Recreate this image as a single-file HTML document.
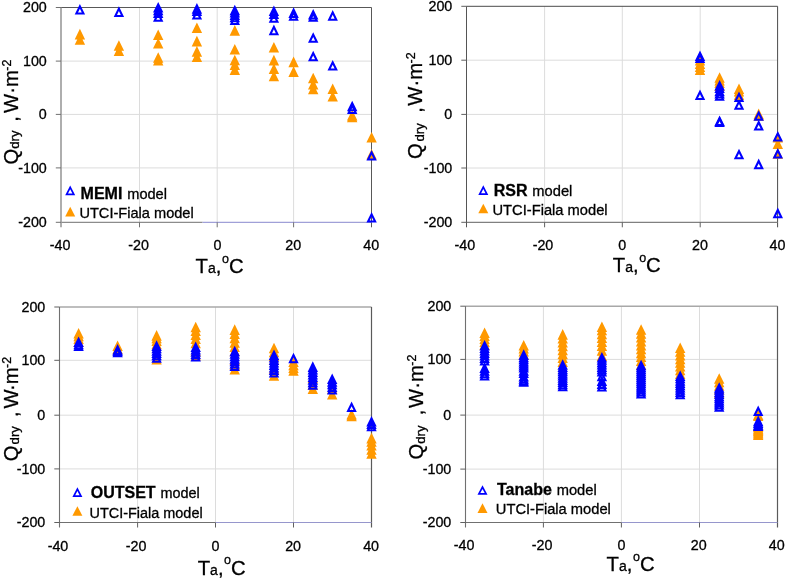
<!DOCTYPE html>
<html><head><meta charset="utf-8"><title>Qdry vs Ta</title>
<style>
html,body{margin:0;padding:0;background:#fff;}
svg{display:block;font-family:"Liberation Sans",Arial,sans-serif;fill:#000;}
text{stroke:#000;stroke-width:0.3px;}
.tk{font-size:14.3px;}
.lg{font-size:14.4px;}
.lg .b{font-size:16px;font-weight:bold;}
.tt{font-size:20.3px;}
.sm{font-size:13.2px;}
.sp{font-size:12.5px;}
.sa{font-size:14px;}
.or{fill:#ff9900;}
.bl{fill:#0000ff;fill-rule:evenodd;}
</style></head><body>
<svg width="785" height="578" viewBox="0 0 785 578">
<rect width="785" height="578" fill="#fff"/>

<g><!-- MEMI -->
<path d="M61 61.1H371.5M61 114.4H371.5M61 167.9H371.5M139.5 7.5V222.3M217.2 7.5V222.3M293.6 7.5V222.3" stroke="#dcdcdc" stroke-width="1" fill="none"/>
<path d="M61 7.5H371.5V227.3" stroke="#454545" stroke-width="0.9" fill="none"/>
<path d="M61 222.3H202.6" stroke="#8c8c8c" stroke-width="1.2" fill="none"/>
<path d="M202.6 222.3H371.5" stroke="#a0a0d8" stroke-width="1.2" fill="none"/>
<path d="M61 7.5V227.3" stroke="#9a9a9a" stroke-width="1.6" fill="none"/>
<path d="M55.8 7.5H61M55.8 61.1H61M55.8 114.4H61M55.8 167.9H61M55.8 222.3H61M139.5 222.3V227.3M217.2 222.3V227.3M293.6 222.3V227.3" stroke="#707070" stroke-width="1" fill="none"/>
<g class="tk">
<text x="46.8" y="12.4" text-anchor="end">200</text>
<text x="46.8" y="66" text-anchor="end">100</text>
<text x="46.8" y="119.3" text-anchor="end">0</text>
<text x="46.8" y="172.8" text-anchor="end">-100</text>
<text x="46.8" y="227.2" text-anchor="end">-200</text>
<text x="60.2" y="250.1" text-anchor="middle">-40</text>
<text x="138.7" y="250.1" text-anchor="middle">-20</text>
<text x="217.5" y="250.1" text-anchor="middle">0</text>
<text x="293.3" y="250.1" text-anchor="middle">20</text>
<text x="371.2" y="250.1" text-anchor="middle">40</text>
</g>
<path class="or" d="M74.7 39.45L85.1 39.45L79.9 28.85ZM74.7 44.82L85.1 44.82L79.9 34.22ZM113.7 50.73L124.1 50.73L118.9 40.13ZM113.7 56.1L124.1 56.1L118.9 45.5ZM153 39.99L163.4 39.99L158.2 29.39ZM153 48.58L163.4 48.58L158.2 37.98ZM153 62.81L163.4 62.81L158.2 52.21ZM153 65.49L163.4 65.49L158.2 54.89ZM191.7 33.01L202.1 33.01L196.9 22.41ZM191.7 46.43L202.1 46.43L196.9 35.83ZM191.7 56.63L202.1 56.63L196.9 46.03ZM191.7 62L202.1 62L196.9 51.4ZM229.6 35.69L240 35.69L234.8 25.09ZM229.6 54.49L240 54.49L234.8 43.89ZM229.6 65.23L240 65.23L234.8 54.63ZM229.6 70.06L240 70.06L234.8 59.46ZM229.6 74.89L240 74.89L234.8 64.29ZM268.7 52.61L279.1 52.61L273.9 42.01ZM268.7 65.39L279.1 65.39L273.9 54.79ZM268.7 74.09L279.1 74.09L273.9 63.49ZM268.7 81.34L279.1 81.34L273.9 70.74ZM288.4 67.21L298.8 67.21L293.6 56.61ZM288.4 76.88L298.8 76.88L293.6 66.28ZM308 83.32L318.4 83.32L313.2 72.72ZM308 89.61L318.4 89.61L313.2 79.01ZM308 94.28L318.4 94.28L313.2 83.68ZM327.5 94.12L337.9 94.12L332.7 83.52ZM327.5 101.53L337.9 101.53L332.7 90.93ZM347 120.54L357.4 120.54L352.2 109.94ZM347 122.15L357.4 122.15L352.2 111.55ZM366.4 142.55L376.8 142.55L371.6 131.95ZM366.4 159.58L376.8 159.58L371.6 148.98Z"/>
<path class="bl" d="M74.7 14.53L85.1 14.53L79.9 3.93ZM78 12.53L79.9 8.73L81.8 12.53Z"/>
<path class="bl" d="M113.7 16.9L124.1 16.9L118.9 6.3ZM117 14.9L118.9 11.1L120.8 14.9Z"/>
<path class="bl" d="M153 12.6L163.4 12.6L158.2 2ZM156.3 10.6L158.2 6.8L160.1 10.6Z"/>
<path class="bl" d="M153 15.29L163.4 15.29L158.2 4.69ZM156.3 13.29L158.2 9.49L160.1 13.29Z"/>
<path class="bl" d="M153 17.97L163.4 17.97L158.2 7.37ZM156.3 15.97L158.2 12.17L160.1 15.97Z"/>
<path class="bl" d="M153 21.73L163.4 21.73L158.2 11.13ZM156.3 19.73L158.2 15.93L160.1 19.73Z"/>
<path class="bl" d="M191.7 13.67L202.1 13.67L196.9 3.07ZM195 11.67L196.9 7.87L198.8 11.67Z"/>
<path class="bl" d="M191.7 16.09L202.1 16.09L196.9 5.49ZM195 14.09L196.9 10.29L198.8 14.09Z"/>
<path class="bl" d="M191.7 19.58L202.1 19.58L196.9 8.98ZM195 17.58L196.9 13.78L198.8 17.58Z"/>
<path class="bl" d="M229.6 15.29L240 15.29L234.8 4.69ZM232.9 13.29L234.8 9.49L236.7 13.29Z"/>
<path class="bl" d="M229.6 17.43L240 17.43L234.8 6.83ZM232.9 15.43L234.8 11.63L236.7 15.43Z"/>
<path class="bl" d="M229.6 20.12L240 20.12L234.8 9.52ZM232.9 18.12L234.8 14.32L236.7 18.12Z"/>
<path class="bl" d="M229.6 22.27L240 22.27L234.8 11.67ZM232.9 20.27L234.8 16.47L236.7 20.27Z"/>
<path class="bl" d="M229.6 25.11L240 25.11L234.8 14.51ZM232.9 23.11L234.8 19.31L236.7 23.11Z"/>
<path class="bl" d="M268.7 16.09L279.1 16.09L273.9 5.49ZM272 14.09L273.9 10.29L275.8 14.09Z"/>
<path class="bl" d="M268.7 19.04L279.1 19.04L273.9 8.44ZM272 17.04L273.9 13.24L275.8 17.04Z"/>
<path class="bl" d="M268.7 22.8L279.1 22.8L273.9 12.2ZM272 20.8L273.9 17L275.8 20.8Z"/>
<path class="bl" d="M268.7 35.15L279.1 35.15L273.9 24.55ZM272 33.15L273.9 29.35L275.8 33.15Z"/>
<path class="bl" d="M288.4 17.97L298.8 17.97L293.6 7.37ZM291.7 15.97L293.6 12.17L295.5 15.97Z"/>
<path class="bl" d="M288.4 20.66L298.8 20.66L293.6 10.05ZM291.7 18.66L293.6 14.86L295.5 18.66Z"/>
<path class="bl" d="M308 19.58L318.4 19.58L313.2 8.98ZM311.3 17.58L313.2 13.78L315.1 17.58Z"/>
<path class="bl" d="M308 21.73L318.4 21.73L313.2 11.13ZM311.3 19.73L313.2 15.93L315.1 19.73Z"/>
<path class="bl" d="M308 42.78L318.4 42.78L313.2 32.18ZM311.3 40.78L313.2 36.98L315.1 40.78Z"/>
<path class="bl" d="M308 61.31L318.4 61.31L313.2 50.71ZM311.3 59.31L313.2 55.51L315.1 59.31Z"/>
<path class="bl" d="M327.5 20.66L337.9 20.66L332.7 10.05ZM330.8 18.66L332.7 14.86L334.6 18.66Z"/>
<path class="bl" d="M327.5 70.6L337.9 70.6L332.7 60ZM330.8 68.6L332.7 64.8L334.6 68.6Z"/>
<path class="bl" d="M347 111.3L357.4 111.3L352.2 100.7ZM350.3 109.3L352.2 105.5L354.1 109.3Z"/>
<path class="bl" d="M347 113.88L357.4 113.88L352.2 103.28ZM350.3 111.88L352.2 108.08L354.1 111.88Z"/>
<path class="bl" d="M366.4 160.6L376.8 160.6L371.6 150ZM369.7 158.6L371.6 154.8L373.5 158.6Z"/>
<path class="bl" d="M366.4 222.57L376.8 222.57L371.6 211.97ZM369.7 220.57L371.6 216.77L373.5 220.57Z"/>
<path class="bl" d="M65.2 195.15L75.2 195.15L70.2 185.55ZM68 193.4L70.2 189.3L72.4 193.4Z"/>
<path class="or" d="M65.2 216.45L75.2 216.45L70.2 206.85Z"/>
<text class="lg" style="font-size:14.6px" x="80.6" y="198.7"><tspan class="b">MEMI</tspan><tspan dx="0.8"> model</tspan></text>
<text class="lg" style="font-size:14.6px" x="79.4" y="218">UTCI-Fiala model</text>
<text class="tt" x="195.6" y="273.2">T<tspan class="sa">a</tspan>,<tspan class="sp" dy="-10.3" dx="0.5">o</tspan><tspan dy="10.3">C</tspan></text>
<text class="tt" transform="translate(17.7 164.5) rotate(-90)" x="0" y="0">Q<tspan class="sm" dy="1.5" dx="0">dry</tspan><tspan dy="-1.5" dx="3"> ,</tspan><tspan dx="-2.4"> W</tspan><tspan dx="0">·m</tspan><tspan class="sp" dy="-7" dx="-0.6">-2</tspan></text>
</g>
<g><!-- RSR -->
<path d="M466.5 60.2H777.6M466.5 114.4H777.6M466.5 168H777.6M544.6 6.3V222.3M622.3 6.3V222.3M700.2 6.3V222.3" stroke="#dcdcdc" stroke-width="1" fill="none"/>
<path d="M466.5 6.3H777.6V227.3" stroke="#4a4a4a" stroke-width="1" fill="none"/>
<path d="M466.5 222.3H777.6" stroke="#808080" stroke-width="1.2" fill="none"/>
<path d="M466.5 6.3V227.3" stroke="#555" stroke-width="1" fill="none"/>
<path d="M461.3 6.3H466.5M461.3 60.2H466.5M461.3 114.4H466.5M461.3 168H466.5M461.3 222.3H466.5M544.6 222.3V227.3M622.3 222.3V227.3M700.2 222.3V227.3" stroke="#606060" stroke-width="1" fill="none"/>
<g class="tk">
<text x="452.3" y="11.2" text-anchor="end">200</text>
<text x="452.3" y="65.1" text-anchor="end">100</text>
<text x="452.3" y="119.3" text-anchor="end">0</text>
<text x="452.3" y="172.9" text-anchor="end">-100</text>
<text x="452.3" y="227.2" text-anchor="end">-200</text>
<text x="464.9" y="250.1" text-anchor="middle">-40</text>
<text x="543" y="250.1" text-anchor="middle">-20</text>
<text x="622.2" y="250.1" text-anchor="middle">0</text>
<text x="700" y="250.1" text-anchor="middle">20</text>
<text x="777.4" y="250.1" text-anchor="middle">40</text>
</g>
<path class="or" d="M694.8 65.4L705.2 65.4L700 54.8ZM694.8 68.91L705.2 68.91L700 58.31ZM694.8 71.88L705.2 71.88L700 61.28ZM694.8 74.9L705.2 74.9L700 64.3ZM714.4 82.79L724.8 82.79L719.6 72.19ZM714.4 85.6L724.8 85.6L719.6 75ZM714.4 88.08L724.8 88.08L719.6 77.48ZM714.4 91.1L724.8 91.1L719.6 80.5ZM733.8 94.07L744.2 94.07L739 83.47ZM733.8 96.61L744.2 96.61L739 86.01ZM733.8 99.91L744.2 99.91L739 89.31ZM753.5 119.18L763.9 119.18L758.7 108.58ZM753.5 120.7L763.9 120.7L758.7 110.1ZM772.6 142.62L783 142.62L777.8 132.02ZM772.6 149.1L783 149.1L777.8 138.5ZM772.6 158.82L783 158.82L777.8 148.22Z"/>
<path class="bl" d="M694.8 61.08L705.2 61.08L700 50.48ZM698.1 59.08L700 55.28L701.9 59.08Z"/>
<path class="bl" d="M694.8 62.92L705.2 62.92L700 52.32ZM698.1 60.92L700 57.12L701.9 60.92Z"/>
<path class="bl" d="M694.8 100.12L705.2 100.12L700 89.52ZM698.1 98.12L700 94.32L701.9 98.12Z"/>
<path class="bl" d="M714.4 90.62L724.8 90.62L719.6 80.02ZM717.7 88.62L719.6 84.82L721.5 88.62Z"/>
<path class="bl" d="M714.4 93.1L724.8 93.1L719.6 82.5ZM717.7 91.1L719.6 87.3L721.5 91.1Z"/>
<path class="bl" d="M714.4 96.13L724.8 96.13L719.6 85.53ZM717.7 94.13L719.6 90.33L721.5 94.13Z"/>
<path class="bl" d="M714.4 98.61L724.8 98.61L719.6 88.01ZM717.7 96.61L719.6 92.81L721.5 96.61Z"/>
<path class="bl" d="M714.4 100.82L724.8 100.82L719.6 90.22ZM717.7 98.82L719.6 95.02L721.5 98.82Z"/>
<path class="bl" d="M714.4 126.1L724.8 126.1L719.6 115.5ZM717.7 124.1L719.6 120.3L721.5 124.1Z"/>
<path class="bl" d="M714.4 126.96L724.8 126.96L719.6 116.36ZM717.7 124.96L719.6 121.16L721.5 124.96Z"/>
<path class="bl" d="M733.8 102.12L744.2 102.12L739 91.52ZM737.1 100.12L739 96.32L740.9 100.12Z"/>
<path class="bl" d="M733.8 109.84L744.2 109.84L739 99.24ZM737.1 107.84L739 104.04L740.9 107.84Z"/>
<path class="bl" d="M733.8 159.31L744.2 159.31L739 148.71ZM737.1 157.31L739 153.51L740.9 157.31Z"/>
<path class="bl" d="M753.5 120.8L763.9 120.8L758.7 110.2ZM756.8 118.8L758.7 115L760.6 118.8Z"/>
<path class="bl" d="M753.5 130.47L763.9 130.47L758.7 119.87ZM756.8 128.47L758.7 124.67L760.6 128.47Z"/>
<path class="bl" d="M753.5 169.19L763.9 169.19L758.7 158.59ZM756.8 167.19L758.7 163.39L760.6 167.19Z"/>
<path class="bl" d="M772.6 141.54L783 141.54L777.8 130.94ZM775.9 139.54L777.8 135.74L779.7 139.54Z"/>
<path class="bl" d="M772.6 158.5L783 158.5L777.8 147.9ZM775.9 156.5L777.8 152.7L779.7 156.5Z"/>
<path class="bl" d="M772.6 218.22L783 218.22L777.8 207.62ZM775.9 216.22L777.8 212.42L779.7 216.22Z"/>
<path class="bl" d="M478.3 194.95L488.3 194.95L483.3 185.35ZM481.1 193.2L483.3 189.1L485.5 193.2Z"/>
<path class="or" d="M478.3 213.35L488.3 213.35L483.3 203.75Z"/>
<text class="lg" style="font-size:14.7px" x="493.7" y="195.9"><tspan class="b">RSR</tspan><tspan dx="0.8"> model</tspan></text>
<text class="lg" style="font-size:14.7px" x="492.5" y="215.2">UTCI-Fiala model</text>
<text class="tt" x="612.8" y="272.4">T<tspan class="sa">a</tspan>,<tspan class="sp" dy="-10.3" dx="0.5">o</tspan><tspan dy="10.3">C</tspan></text>
<text class="tt" transform="translate(422.3 158.9) rotate(-90)" x="0" y="0">Q<tspan class="sm" dy="1.5" dx="1.6">dry</tspan><tspan dy="-1.5" dx="4.8"> ,</tspan><tspan dx="-4.2"> W</tspan><tspan dx="0">·m</tspan><tspan class="sp" dy="-7" dx="-0.6">-2</tspan></text>
</g>
<g><!-- OUTSET -->
<path d="M59.5 360.3H371.5M59.5 415.2H371.5M59.5 468.9H371.5M137.6 307V522.5M215.5 307V522.5M293.5 307V522.5" stroke="#dcdcdc" stroke-width="1" fill="none"/>
<path d="M59.5 307H371.5" stroke="#a8a8a8" stroke-width="1.6" fill="none"/>
<path d="M371.5 307V527.5" stroke="#5a5a5a" stroke-width="1.2" fill="none"/>
<path d="M59.5 522.5H215.5" stroke="#707070" stroke-width="1.1" fill="none"/>
<path d="M215.5 522.5H371.5" stroke="#9696cc" stroke-width="1.1" fill="none"/>
<path d="M59.5 307V527.5" stroke="#707070" stroke-width="1.1" fill="none"/>
<path d="M54.3 307H59.5M54.3 360.3H59.5M54.3 415.2H59.5M54.3 468.9H59.5M54.3 522.5H59.5M137.6 522.5V527.5M215.5 522.5V527.5M293.5 522.5V527.5" stroke="#606060" stroke-width="1" fill="none"/>
<g class="tk">
<text x="45.3" y="311.9" text-anchor="end">200</text>
<text x="45.3" y="365.2" text-anchor="end">100</text>
<text x="45.3" y="420.1" text-anchor="end">0</text>
<text x="45.3" y="473.8" text-anchor="end">-100</text>
<text x="45.3" y="527.4" text-anchor="end">-200</text>
<text x="58" y="551.2" text-anchor="middle">-40</text>
<text x="136.1" y="551.2" text-anchor="middle">-20</text>
<text x="215.4" y="551.2" text-anchor="middle">0</text>
<text x="293.1" y="551.2" text-anchor="middle">20</text>
<text x="371.1" y="551.2" text-anchor="middle">40</text>
</g>
<path class="or" d="M73.4 338.5L83.8 338.5L78.6 327.9ZM73.4 341.19L83.8 341.19L78.6 330.59ZM73.4 344.1L83.8 344.1L78.6 333.5ZM73.4 347.12L83.8 347.12L78.6 336.52ZM112.4 351.11L122.8 351.11L117.6 340.51ZM112.4 354.12L122.8 354.12L117.6 343.52ZM151.4 340.65L161.8 340.65L156.6 330.05ZM151.4 343.35L161.8 343.35L156.6 332.75ZM151.4 346.04L161.8 346.04L156.6 335.44ZM151.4 349.27L161.8 349.27L156.6 338.67ZM151.4 364.57L161.8 364.57L156.6 353.97ZM190.5 332.3L200.9 332.3L195.7 321.7ZM190.5 336.07L200.9 336.07L195.7 325.47ZM190.5 340.12L200.9 340.12L195.7 329.51ZM190.5 344.1L200.9 344.1L195.7 333.5ZM190.5 348.2L200.9 348.2L195.7 337.6ZM190.5 356.28L200.9 356.28L195.7 345.68ZM190.5 360.59L200.9 360.59L195.7 349.99ZM229.5 334.89L239.9 334.89L234.7 324.29ZM229.5 339.04L239.9 339.04L234.7 328.44ZM229.5 343.35L239.9 343.35L234.7 332.75ZM229.5 347.66L239.9 347.66L234.7 337.06ZM229.5 351.97L239.9 351.97L234.7 341.37ZM229.5 356.28L239.9 356.28L234.7 345.68ZM229.5 364.9L239.9 364.9L234.7 354.3ZM229.5 369.75L239.9 369.75L234.7 359.15ZM229.5 374.6L239.9 374.6L234.7 364ZM268.8 353.37L279.2 353.37L274 342.77ZM268.8 357.36L279.2 357.36L274 346.75ZM268.8 361.13L279.2 361.13L274 350.53ZM268.8 365.06L279.2 365.06L274 354.46ZM268.8 373.79L279.2 373.79L274 363.19ZM268.8 380.68L279.2 380.68L274 370.08ZM288.3 367.05L298.7 367.05L293.5 356.45ZM288.3 370.29L298.7 370.29L293.5 359.69ZM288.3 372.98L298.7 372.98L293.5 362.38ZM288.3 375.67L298.7 375.67L293.5 365.07ZM307.6 383.22L318 383.22L312.8 372.62ZM307.6 389.68L318 389.68L312.8 379.08ZM307.6 393.99L318 393.99L312.8 383.39ZM327 393.99L337.4 393.99L332.2 383.39ZM327 399.49L337.4 399.49L332.2 388.89ZM346.4 419.58L356.8 419.58L351.6 408.98ZM346.4 421.3L356.8 421.3L351.6 410.7ZM366.3 443.39L376.7 443.39L371.5 432.79ZM366.3 446.79L376.7 446.79L371.5 436.19ZM366.3 450.56L376.7 450.56L371.5 439.96ZM366.3 454.87L376.7 454.87L371.5 444.27ZM366.3 458.86L376.7 458.86L371.5 448.26Z"/>
<path class="bl" d="M73.4 347.12L83.8 347.12L78.6 336.52ZM76.7 345.12L78.6 341.32L80.5 345.12Z"/>
<path class="bl" d="M73.4 349.27L83.8 349.27L78.6 338.67ZM76.7 347.27L78.6 343.47L80.5 347.27Z"/>
<path class="bl" d="M73.4 351.11L83.8 351.11L78.6 340.51ZM76.7 349.11L78.6 345.31L80.5 349.11Z"/>
<path class="bl" d="M112.4 354.66L122.8 354.66L117.6 344.06ZM115.7 352.66L117.6 348.86L119.5 352.66Z"/>
<path class="bl" d="M112.4 356.01L122.8 356.01L117.6 345.41ZM115.7 354.01L117.6 350.21L119.5 354.01Z"/>
<path class="bl" d="M112.4 357.36L122.8 357.36L117.6 346.75ZM115.7 355.36L117.6 351.56L119.5 355.36Z"/>
<path class="bl" d="M151.4 350.89L161.8 350.89L156.6 340.29ZM154.7 348.89L156.6 345.09L158.5 348.89Z"/>
<path class="bl" d="M151.4 353.26L161.8 353.26L156.6 342.66ZM154.7 351.26L156.6 347.46L158.5 351.26Z"/>
<path class="bl" d="M151.4 355.63L161.8 355.63L156.6 345.03ZM154.7 353.63L156.6 349.83L158.5 353.63Z"/>
<path class="bl" d="M151.4 358L161.8 358L156.6 347.4ZM154.7 356L156.6 352.2L158.5 356Z"/>
<path class="bl" d="M151.4 360.37L161.8 360.37L156.6 349.77ZM154.7 358.37L156.6 354.57L158.5 358.37Z"/>
<path class="bl" d="M151.4 362.74L161.8 362.74L156.6 352.14ZM154.7 360.74L156.6 356.94L158.5 360.74Z"/>
<path class="bl" d="M190.5 352.08L200.9 352.08L195.7 341.48ZM193.8 350.08L195.7 346.28L197.6 350.08Z"/>
<path class="bl" d="M190.5 354.41L200.9 354.41L195.7 343.81ZM193.8 352.41L195.7 348.61L197.6 352.41Z"/>
<path class="bl" d="M190.5 356.74L200.9 356.74L195.7 346.14ZM193.8 354.74L195.7 350.94L197.6 354.74Z"/>
<path class="bl" d="M190.5 359.07L200.9 359.07L195.7 348.47ZM193.8 357.07L195.7 353.27L197.6 357.07Z"/>
<path class="bl" d="M190.5 361.4L200.9 361.4L195.7 350.8ZM193.8 359.4L195.7 355.6L197.6 359.4Z"/>
<path class="bl" d="M229.5 356.28L239.9 356.28L234.7 345.68ZM232.8 354.28L234.7 350.48L236.6 354.28Z"/>
<path class="bl" d="M229.5 358.75L239.9 358.75L234.7 348.15ZM232.8 356.75L234.7 352.95L236.6 356.75Z"/>
<path class="bl" d="M229.5 361.22L239.9 361.22L234.7 350.62ZM232.8 359.22L234.7 355.42L236.6 359.22Z"/>
<path class="bl" d="M229.5 363.69L239.9 363.69L234.7 353.09ZM232.8 361.69L234.7 357.89L236.6 361.69Z"/>
<path class="bl" d="M229.5 366.15L239.9 366.15L234.7 355.55ZM232.8 364.15L234.7 360.35L236.6 364.15Z"/>
<path class="bl" d="M229.5 368.62L239.9 368.62L234.7 358.02ZM232.8 366.62L234.7 362.82L236.6 366.62Z"/>
<path class="bl" d="M229.5 371.09L239.9 371.09L234.7 360.49ZM232.8 369.09L234.7 365.29L236.6 369.09Z"/>
<path class="bl" d="M268.8 360.05L279.2 360.05L274 349.45ZM272.1 358.05L274 354.25L275.9 358.05Z"/>
<path class="bl" d="M268.8 362.53L279.2 362.53L274 351.93ZM272.1 360.53L274 356.73L275.9 360.53Z"/>
<path class="bl" d="M268.8 365.01L279.2 365.01L274 354.41ZM272.1 363.01L274 359.21L275.9 363.01Z"/>
<path class="bl" d="M268.8 367.48L279.2 367.48L274 356.88ZM272.1 365.48L274 361.68L275.9 365.48Z"/>
<path class="bl" d="M268.8 369.96L279.2 369.96L274 359.36ZM272.1 367.96L274 364.16L275.9 367.96Z"/>
<path class="bl" d="M268.8 372.44L279.2 372.44L274 361.84ZM272.1 370.44L274 366.64L275.9 370.44Z"/>
<path class="bl" d="M268.8 374.92L279.2 374.92L274 364.32ZM272.1 372.92L274 369.12L275.9 372.92Z"/>
<path class="bl" d="M268.8 377.4L279.2 377.4L274 366.8ZM272.1 375.4L274 371.6L275.9 375.4Z"/>
<path class="bl" d="M288.3 363.28L298.7 363.28L293.5 352.68ZM291.6 361.28L293.5 357.48L295.4 361.28Z"/>
<path class="bl" d="M307.6 371.9L318 371.9L312.8 361.3ZM310.9 369.9L312.8 366.1L314.7 369.9Z"/>
<path class="bl" d="M307.6 374.46L318 374.46L312.8 363.86ZM310.9 372.46L312.8 368.66L314.7 372.46Z"/>
<path class="bl" d="M307.6 377.01L318 377.01L312.8 366.41ZM310.9 375.01L312.8 371.21L314.7 375.01Z"/>
<path class="bl" d="M307.6 379.57L318 379.57L312.8 368.97ZM310.9 377.57L312.8 373.77L314.7 377.57Z"/>
<path class="bl" d="M307.6 382.12L318 382.12L312.8 371.52ZM310.9 380.12L312.8 376.32L314.7 380.12Z"/>
<path class="bl" d="M307.6 384.68L318 384.68L312.8 374.08ZM310.9 382.68L312.8 378.88L314.7 382.68Z"/>
<path class="bl" d="M307.6 387.23L318 387.23L312.8 376.63ZM310.9 385.23L312.8 381.43L314.7 385.23Z"/>
<path class="bl" d="M307.6 389.79L318 389.79L312.8 379.19ZM310.9 387.79L312.8 383.99L314.7 387.79Z"/>
<path class="bl" d="M327 384.08L337.4 384.08L332.2 373.48ZM330.3 382.08L332.2 378.28L334.1 382.08Z"/>
<path class="bl" d="M327 386.7L337.4 386.7L332.2 376.1ZM330.3 384.7L332.2 380.9L334.1 384.7Z"/>
<path class="bl" d="M327 389.33L337.4 389.33L332.2 378.73ZM330.3 387.33L332.2 383.53L334.1 387.33Z"/>
<path class="bl" d="M327 391.96L337.4 391.96L332.2 381.36ZM330.3 389.96L332.2 386.16L334.1 389.96Z"/>
<path class="bl" d="M327 394.58L337.4 394.58L332.2 383.98ZM330.3 392.58L332.2 388.78L334.1 392.58Z"/>
<path class="bl" d="M346.4 412.09L356.8 412.09L351.6 401.49ZM349.7 410.09L351.6 406.29L353.5 410.09Z"/>
<path class="bl" d="M366.3 426.48L376.7 426.48L371.5 415.88ZM369.6 424.48L371.5 420.68L373.4 424.48Z"/>
<path class="bl" d="M366.3 429.01L376.7 429.01L371.5 418.41ZM369.6 427.01L371.5 423.21L373.4 427.01Z"/>
<path class="bl" d="M366.3 431.16L376.7 431.16L371.5 420.56ZM369.6 429.16L371.5 425.36L373.4 429.16Z"/>
<path class="bl" d="M72.4 496.95L82.4 496.95L77.4 487.35ZM75.2 495.2L77.4 491.1L79.6 495.2Z"/>
<path class="or" d="M72.4 515.85L82.4 515.85L77.4 506.25Z"/>
<text class="lg" style="font-size:14.45px" x="90.7" y="497.8"><tspan class="b">OUTSET</tspan><tspan dx="0.8"> model</tspan></text>
<text class="lg" style="font-size:14.45px" x="89.5" y="518.2">UTCI-Fiala model</text>
<text class="tt" x="197.7" y="574.7">T<tspan class="sa">a</tspan>,<tspan class="sp" dy="-10.3" dx="0.5">o</tspan><tspan dy="10.3">C</tspan></text>
<text class="tt" transform="translate(17.5 461.3) rotate(-90)" x="0" y="0">Q<tspan class="sm" dy="1.5" dx="1.1">dry</tspan><tspan dy="-1.5" dx="3.5"> ,</tspan><tspan dx="-2.9"> W</tspan><tspan dx="-1.5">·m</tspan><tspan class="sp" dy="-7" dx="-0.6">-2</tspan></text>
</g>
<g><!-- Tanabe -->
<path d="M465.5 359.4H777.5M465.5 415.1H777.5M465.5 469.1H777.5M543.4 306.2V522.5M621.4 306.2V522.5M699.5 306.2V522.5" stroke="#dcdcdc" stroke-width="1" fill="none"/>
<path d="M465.5 306.2H777.5" stroke="#a8a8a8" stroke-width="1.6" fill="none"/>
<path d="M777.5 306.2V527.5" stroke="#5a5a5a" stroke-width="1.2" fill="none"/>
<path d="M465.5 522.5H621.4" stroke="#707070" stroke-width="1.1" fill="none"/>
<path d="M621.4 522.5H777.5" stroke="#9696cc" stroke-width="1.1" fill="none"/>
<path d="M465.5 306.2V527.5" stroke="#707070" stroke-width="1.1" fill="none"/>
<path d="M460.3 306.2H465.5M460.3 359.4H465.5M460.3 415.1H465.5M460.3 469.1H465.5M460.3 522.5H465.5M543.4 522.5V527.5M621.4 522.5V527.5M699.5 522.5V527.5" stroke="#606060" stroke-width="1" fill="none"/>
<g class="tk">
<text x="451.3" y="311.1" text-anchor="end">200</text>
<text x="451.3" y="364.3" text-anchor="end">100</text>
<text x="451.3" y="420" text-anchor="end">0</text>
<text x="451.3" y="474" text-anchor="end">-100</text>
<text x="451.3" y="527.4" text-anchor="end">-200</text>
<text x="464.2" y="550.3" text-anchor="middle">-40</text>
<text x="542.1" y="550.3" text-anchor="middle">-20</text>
<text x="621.6" y="550.3" text-anchor="middle">0</text>
<text x="698.8" y="550.3" text-anchor="middle">20</text>
<text x="776.8" y="550.3" text-anchor="middle">40</text>
</g>
<path class="or" d="M479.4 338.01L489.8 338.01L484.6 327.41ZM479.4 341.04L489.8 341.04L484.6 330.44ZM479.4 344.02L489.8 344.02L484.6 333.42ZM479.4 346.99L489.8 346.99L484.6 336.39ZM479.4 349.96L489.8 349.96L484.6 339.36ZM518.5 350.5L528.9 350.5L523.7 339.9ZM518.5 353.48L528.9 353.48L523.7 342.88ZM518.5 356.45L528.9 356.45L523.7 345.85ZM518.5 359.43L528.9 359.43L523.7 348.83ZM557.5 339.64L567.9 339.64L562.7 329.04ZM557.5 343.54L567.9 343.54L562.7 332.94ZM557.5 347.45L567.9 347.45L562.7 336.85ZM557.5 351.36L567.9 351.36L562.7 340.76ZM557.5 355.27L567.9 355.27L562.7 344.67ZM557.5 359.18L567.9 359.18L562.7 348.58ZM557.5 363.09L567.9 363.09L562.7 352.49ZM557.5 367L567.9 367L562.7 356.4ZM596.7 332.12L607.1 332.12L601.9 321.52ZM596.7 335.31L607.1 335.31L601.9 324.71ZM596.7 339.2L607.1 339.2L601.9 328.6ZM596.7 343.1L607.1 343.1L601.9 332.5ZM596.7 346.99L607.1 346.99L601.9 336.39ZM596.7 350.99L607.1 350.99L601.9 340.39ZM596.7 355.64L607.1 355.64L601.9 345.04ZM596.7 361.05L607.1 361.05L601.9 350.45ZM635.9 334.82L646.3 334.82L641.1 324.22ZM635.9 338.72L646.3 338.72L641.1 328.12ZM635.9 342.61L646.3 342.61L641.1 332.01ZM635.9 346.5L646.3 346.5L641.1 335.9ZM635.9 350.4L646.3 350.4L641.1 339.8ZM635.9 354.29L646.3 354.29L641.1 343.69ZM635.9 358.18L646.3 358.18L641.1 347.58ZM635.9 362.08L646.3 362.08L641.1 351.48ZM635.9 365.97L646.3 365.97L641.1 355.37ZM635.9 369.7L646.3 369.7L641.1 359.1ZM675 353.1L685.4 353.1L680.2 342.5ZM675 356.78L685.4 356.78L680.2 346.18ZM675 360.47L685.4 360.47L680.2 349.87ZM675 364.15L685.4 364.15L680.2 353.55ZM675 367.84L685.4 367.84L680.2 357.24ZM675 371.52L685.4 371.52L680.2 360.92ZM675 375.21L685.4 375.21L680.2 364.61ZM675 378.89L685.4 378.89L680.2 368.29ZM714 383.76L724.4 383.76L719.2 373.16ZM714 387.28L724.4 387.28L719.2 376.68ZM714 390.79L724.4 390.79L719.2 380.19ZM714 394.31L724.4 394.31L719.2 383.71ZM714 397.82L724.4 397.82L719.2 387.22ZM753 419.99L763.4 419.99L758.2 409.39ZM753 421.07L763.4 421.07L758.2 410.47ZM753 430.81L763.4 430.81L758.2 420.21ZM753 432.1L763.4 432.1L758.2 421.5ZM753 433.4L763.4 433.4L758.2 422.8ZM753 434.7L763.4 434.7L758.2 424.1ZM753 436L763.4 436L758.2 425.4ZM753 437.29L763.4 437.29L758.2 426.69ZM753 438.59L763.4 438.59L758.2 427.99ZM753 439.89L763.4 439.89L758.2 429.29Z"/>
<path class="bl" d="M479.4 350.5L489.8 350.5L484.6 339.9ZM482.7 348.5L484.6 344.7L486.5 348.5Z"/>
<path class="bl" d="M479.4 352.98L489.8 352.98L484.6 342.38ZM482.7 350.98L484.6 347.18L486.5 350.98Z"/>
<path class="bl" d="M479.4 355.46L489.8 355.46L484.6 344.86ZM482.7 353.46L484.6 349.66L486.5 353.46Z"/>
<path class="bl" d="M479.4 357.94L489.8 357.94L484.6 347.34ZM482.7 355.94L484.6 352.14L486.5 355.94Z"/>
<path class="bl" d="M479.4 360.42L489.8 360.42L484.6 349.82ZM482.7 358.42L484.6 354.62L486.5 358.42Z"/>
<path class="bl" d="M479.4 362.9L489.8 362.9L484.6 352.3ZM482.7 360.9L484.6 357.1L486.5 360.9Z"/>
<path class="bl" d="M479.4 365.38L489.8 365.38L484.6 354.77ZM482.7 363.38L484.6 359.57L486.5 363.38Z"/>
<path class="bl" d="M479.4 372.95L489.8 372.95L484.6 362.35ZM482.7 370.95L484.6 367.15L486.5 370.95Z"/>
<path class="bl" d="M479.4 375.65L489.8 375.65L484.6 365.05ZM482.7 373.65L484.6 369.85L486.5 373.65Z"/>
<path class="bl" d="M479.4 378.35L489.8 378.35L484.6 367.75ZM482.7 376.35L484.6 372.55L486.5 376.35Z"/>
<path class="bl" d="M479.4 380.52L489.8 380.52L484.6 369.92ZM482.7 378.52L484.6 374.72L486.5 378.52Z"/>
<path class="bl" d="M518.5 359.97L528.9 359.97L523.7 349.37ZM521.8 357.97L523.7 354.17L525.6 357.97Z"/>
<path class="bl" d="M518.5 362.13L528.9 362.13L523.7 351.53ZM521.8 360.13L523.7 356.33L525.6 360.13Z"/>
<path class="bl" d="M518.5 364.29L528.9 364.29L523.7 353.69ZM521.8 362.29L523.7 358.49L525.6 362.29Z"/>
<path class="bl" d="M518.5 366.46L528.9 366.46L523.7 355.86ZM521.8 364.46L523.7 360.66L525.6 364.46Z"/>
<path class="bl" d="M518.5 368.62L528.9 368.62L523.7 358.02ZM521.8 366.62L523.7 362.82L525.6 366.62Z"/>
<path class="bl" d="M518.5 370.51L528.9 370.51L523.7 359.91ZM521.8 368.51L523.7 364.71L525.6 368.51Z"/>
<path class="bl" d="M518.5 372.4L528.9 372.4L523.7 361.8ZM521.8 370.4L523.7 366.6L525.6 370.4Z"/>
<path class="bl" d="M518.5 375.65L528.9 375.65L523.7 365.05ZM521.8 373.65L523.7 369.85L525.6 373.65Z"/>
<path class="bl" d="M518.5 378.08L528.9 378.08L523.7 367.48ZM521.8 376.08L523.7 372.28L525.6 376.08Z"/>
<path class="bl" d="M518.5 381.6L528.9 381.6L523.7 371ZM521.8 379.6L523.7 375.8L525.6 379.6Z"/>
<path class="bl" d="M518.5 383.76L528.9 383.76L523.7 373.16ZM521.8 381.76L523.7 377.96L525.6 381.76Z"/>
<path class="bl" d="M518.5 385.38L528.9 385.38L523.7 374.78ZM521.8 383.38L523.7 379.58L525.6 383.38Z"/>
<path class="bl" d="M518.5 386.73L528.9 386.73L523.7 376.13ZM521.8 384.73L523.7 380.93L525.6 384.73Z"/>
<path class="bl" d="M557.5 369.86L567.9 369.86L562.7 359.26ZM560.8 367.86L562.7 364.06L564.6 367.86Z"/>
<path class="bl" d="M557.5 372.01L567.9 372.01L562.7 361.41ZM560.8 370.01L562.7 366.21L564.6 370.01Z"/>
<path class="bl" d="M557.5 374.16L567.9 374.16L562.7 363.56ZM560.8 372.16L562.7 368.36L564.6 372.16Z"/>
<path class="bl" d="M557.5 376.3L567.9 376.3L562.7 365.7ZM560.8 374.3L562.7 370.5L564.6 374.3Z"/>
<path class="bl" d="M557.5 378.45L567.9 378.45L562.7 367.85ZM560.8 376.45L562.7 372.65L564.6 376.45Z"/>
<path class="bl" d="M557.5 380.6L567.9 380.6L562.7 370ZM560.8 378.6L562.7 374.8L564.6 378.6Z"/>
<path class="bl" d="M557.5 382.74L567.9 382.74L562.7 372.14ZM560.8 380.74L562.7 376.94L564.6 380.74Z"/>
<path class="bl" d="M557.5 384.89L567.9 384.89L562.7 374.29ZM560.8 382.89L562.7 379.09L564.6 382.89Z"/>
<path class="bl" d="M557.5 387.04L567.9 387.04L562.7 376.44ZM560.8 385.04L562.7 381.24L564.6 385.04Z"/>
<path class="bl" d="M557.5 389.18L567.9 389.18L562.7 378.58ZM560.8 387.18L562.7 383.38L564.6 387.18Z"/>
<path class="bl" d="M557.5 391.33L567.9 391.33L562.7 380.73ZM560.8 389.33L562.7 385.53L564.6 389.33Z"/>
<path class="bl" d="M596.7 362.51L607.1 362.51L601.9 351.91ZM600 360.51L601.9 356.71L603.8 360.51Z"/>
<path class="bl" d="M596.7 364.86L607.1 364.86L601.9 354.26ZM600 362.86L601.9 359.06L603.8 362.86Z"/>
<path class="bl" d="M596.7 367.21L607.1 367.21L601.9 356.61ZM600 365.21L601.9 361.41L603.8 365.21Z"/>
<path class="bl" d="M596.7 369.57L607.1 369.57L601.9 358.97ZM600 367.57L601.9 363.77L603.8 367.57Z"/>
<path class="bl" d="M596.7 371.92L607.1 371.92L601.9 361.32ZM600 369.92L601.9 366.12L603.8 369.92Z"/>
<path class="bl" d="M596.7 374.27L607.1 374.27L601.9 363.67ZM600 372.27L601.9 368.47L603.8 372.27Z"/>
<path class="bl" d="M596.7 376.62L607.1 376.62L601.9 366.02ZM600 374.62L601.9 370.82L603.8 374.62Z"/>
<path class="bl" d="M596.7 381.33L607.1 381.33L601.9 370.73ZM600 379.33L601.9 375.53L603.8 379.33Z"/>
<path class="bl" d="M596.7 385.92L607.1 385.92L601.9 375.32ZM600 383.92L601.9 380.12L603.8 383.92Z"/>
<path class="bl" d="M596.7 388.9L607.1 388.9L601.9 378.3ZM600 386.9L601.9 383.1L603.8 386.9Z"/>
<path class="bl" d="M596.7 391.44L607.1 391.44L601.9 380.84ZM600 389.44L601.9 385.64L603.8 389.44Z"/>
<path class="bl" d="M635.9 370.3L646.3 370.3L641.1 359.7ZM639.2 368.3L641.1 364.5L643 368.3Z"/>
<path class="bl" d="M635.9 372.3L646.3 372.3L641.1 361.7ZM639.2 370.3L641.1 366.5L643 370.3Z"/>
<path class="bl" d="M635.9 374.31L646.3 374.31L641.1 363.71ZM639.2 372.31L641.1 368.51L643 372.31Z"/>
<path class="bl" d="M635.9 376.32L646.3 376.32L641.1 365.72ZM639.2 374.32L641.1 370.52L643 374.32Z"/>
<path class="bl" d="M635.9 378.33L646.3 378.33L641.1 367.73ZM639.2 376.33L641.1 372.53L643 376.33Z"/>
<path class="bl" d="M635.9 380.34L646.3 380.34L641.1 369.74ZM639.2 378.34L641.1 374.54L643 378.34Z"/>
<path class="bl" d="M635.9 382.35L646.3 382.35L641.1 371.75ZM639.2 380.35L641.1 376.55L643 380.35Z"/>
<path class="bl" d="M635.9 384.36L646.3 384.36L641.1 373.76ZM639.2 382.36L641.1 378.56L643 382.36Z"/>
<path class="bl" d="M635.9 386.36L646.3 386.36L641.1 375.76ZM639.2 384.36L641.1 380.56L643 384.36Z"/>
<path class="bl" d="M635.9 388.37L646.3 388.37L641.1 377.77ZM639.2 386.37L641.1 382.57L643 386.37Z"/>
<path class="bl" d="M635.9 390.38L646.3 390.38L641.1 379.78ZM639.2 388.38L641.1 384.58L643 388.38Z"/>
<path class="bl" d="M635.9 392.39L646.3 392.39L641.1 381.79ZM639.2 390.39L641.1 386.59L643 390.39Z"/>
<path class="bl" d="M635.9 394.4L646.3 394.4L641.1 383.8ZM639.2 392.4L641.1 388.6L643 392.4Z"/>
<path class="bl" d="M635.9 396.41L646.3 396.41L641.1 385.81ZM639.2 394.41L641.1 390.61L643 394.41Z"/>
<path class="bl" d="M635.9 398.41L646.3 398.41L641.1 387.81ZM639.2 396.41L641.1 392.61L643 396.41Z"/>
<path class="bl" d="M675 381.06L685.4 381.06L680.2 370.46ZM678.3 379.06L680.2 375.26L682.1 379.06Z"/>
<path class="bl" d="M675 383.34L685.4 383.34L680.2 372.74ZM678.3 381.34L680.2 377.54L682.1 381.34Z"/>
<path class="bl" d="M675 385.63L685.4 385.63L680.2 375.03ZM678.3 383.63L680.2 379.83L682.1 383.63Z"/>
<path class="bl" d="M675 387.91L685.4 387.91L680.2 377.31ZM678.3 385.91L680.2 382.11L682.1 385.91Z"/>
<path class="bl" d="M675 390.2L685.4 390.2L680.2 379.6ZM678.3 388.2L680.2 384.4L682.1 388.2Z"/>
<path class="bl" d="M675 392.48L685.4 392.48L680.2 381.88ZM678.3 390.48L680.2 386.68L682.1 390.48Z"/>
<path class="bl" d="M675 394.76L685.4 394.76L680.2 384.16ZM678.3 392.76L680.2 388.96L682.1 392.76Z"/>
<path class="bl" d="M675 397.05L685.4 397.05L680.2 386.45ZM678.3 395.05L680.2 391.25L682.1 395.05Z"/>
<path class="bl" d="M675 399.33L685.4 399.33L680.2 388.73ZM678.3 397.33L680.2 393.53L682.1 397.33Z"/>
<path class="bl" d="M714 392.74L724.4 392.74L719.2 382.14ZM717.3 390.74L719.2 386.94L721.1 390.74Z"/>
<path class="bl" d="M714 394.85L724.4 394.85L719.2 384.25ZM717.3 392.85L719.2 389.05L721.1 392.85Z"/>
<path class="bl" d="M714 396.95L724.4 396.95L719.2 386.35ZM717.3 394.95L719.2 391.15L721.1 394.95Z"/>
<path class="bl" d="M714 399.06L724.4 399.06L719.2 388.46ZM717.3 397.06L719.2 393.26L721.1 397.06Z"/>
<path class="bl" d="M714 401.17L724.4 401.17L719.2 390.57ZM717.3 399.17L719.2 395.37L721.1 399.17Z"/>
<path class="bl" d="M714 403.28L724.4 403.28L719.2 392.68ZM717.3 401.28L719.2 397.48L721.1 401.28Z"/>
<path class="bl" d="M714 405.39L724.4 405.39L719.2 394.79ZM717.3 403.39L719.2 399.59L721.1 403.39Z"/>
<path class="bl" d="M714 407.5L724.4 407.5L719.2 396.9ZM717.3 405.5L719.2 401.7L721.1 405.5Z"/>
<path class="bl" d="M714 409.61L724.4 409.61L719.2 399.01ZM717.3 407.61L719.2 403.81L721.1 407.61Z"/>
<path class="bl" d="M714 411.72L724.4 411.72L719.2 401.12ZM717.3 409.72L719.2 405.92L721.1 409.72Z"/>
<path class="bl" d="M753 416.1L763.4 416.1L758.2 405.5ZM756.3 414.1L758.2 410.3L760.1 414.1Z"/>
<path class="bl" d="M753 426.21L763.4 426.21L758.2 415.61ZM756.3 424.21L758.2 420.41L760.1 424.21Z"/>
<path class="bl" d="M753 428.1L763.4 428.1L758.2 417.5ZM756.3 426.1L758.2 422.3L760.1 426.1Z"/>
<path class="bl" d="M753 429.72L763.4 429.72L758.2 419.12ZM756.3 427.72L758.2 423.92L760.1 427.72Z"/>
<path class="bl" d="M753 431.08L763.4 431.08L758.2 420.48ZM756.3 429.08L758.2 425.28L760.1 429.08Z"/>
<path class="bl" d="M477.5 494.75L487.5 494.75L482.5 485.15ZM480.3 493L482.5 488.9L484.7 493Z"/>
<path class="or" d="M477.5 512.95L487.5 512.95L482.5 503.35Z"/>
<text class="lg" style="font-size:14.7px" x="497" y="494.8"><tspan class="b">Tanabe</tspan><tspan dx="0.8"> model</tspan></text>
<text class="lg" style="font-size:14.7px" x="495.8" y="514.1">UTCI-Fiala model</text>
<text class="tt" x="606.6" y="570.9">T<tspan class="sa">a</tspan>,<tspan class="sp" dy="-10.3" dx="0.5">o</tspan><tspan dy="10.3">C</tspan></text>
<text class="tt" transform="translate(423.4 459.6) rotate(-90)" x="0" y="0">Q<tspan class="sm" dy="1.5" dx="0">dry</tspan><tspan dy="-1.5" dx="4.5"> ,</tspan><tspan dx="-3.9"> W</tspan><tspan dx="0">·m</tspan><tspan class="sp" dy="-7" dx="-0.6">-2</tspan></text>
</g>
</svg></body></html>
